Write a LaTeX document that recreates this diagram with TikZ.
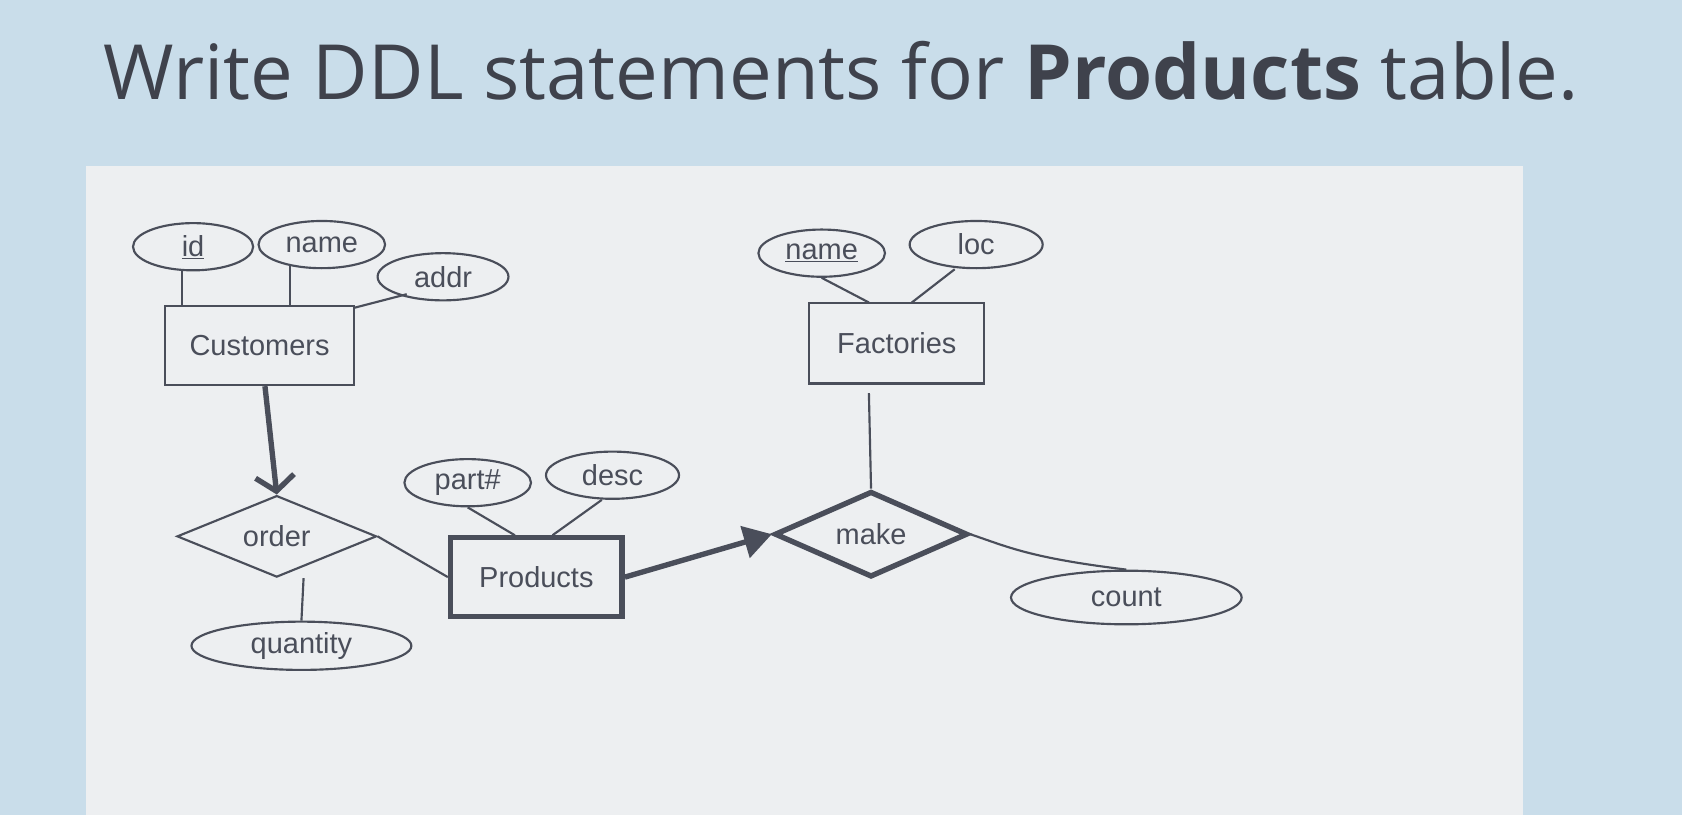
\documentclass[tikz,border=0pt]{standalone}
\usepackage{fontspec}
\setmainfont{Liberation Sans}
\newfontfamily\titlefont{Open Sans}
\usetikzlibrary{shapes.geometric,arrows.meta}
\definecolor{bgblue}{HTML}{C9DDEA}
\definecolor{panel}{HTML}{EDEFF1}
\definecolor{ink}{HTML}{4A4E5A}
\tikzset{
 attr/.style={ellipse,draw=ink,line width=2pt,inner sep=0pt,font=\fontsize{27}{27}\selectfont,text=ink},
 ent/.style={rectangle,draw=ink,line width=2pt,inner sep=6pt,font=\fontsize{27}{27}\selectfont,text=ink},
 rel/.style={diamond,aspect=2.4,draw=ink,line width=2pt,inner sep=1pt,font=\fontsize{27}{27}\selectfont,text=ink},
 thin/.style={draw=ink,line width=2pt},
 thick/.style={draw=ink,line width=5pt}
}
\begin{document}
\begin{tikzpicture}[x=1pt,y=-1pt]
\useasboundingbox (0,0) rectangle (1568,760);
\fill[bgblue] (0,0) rectangle (1568,760);
\fill[panel] (80,155) rectangle (1420,760);
\node[anchor=base west,font=\titlefont\fontsize{71}{71}\selectfont,text=ink!85!black] (title) at (93,93) {Write DDL statements for \textbf{Products} table.};
% customers
\node[attr,minimum width=112,minimum height=44] (id) at (180,230) {\underline{id}};
\node[attr,minimum width=118,minimum height=44] (nm) at (300,228) {name};
\node[attr,minimum width=122,minimum height=44] (addr) at (413,258) {addr};
\node[ent,minimum width=176,minimum height=74] (cust) at (242,322) {Customers};
% factories
\node[attr,minimum width=118,minimum height=44] (fname) at (766,236) {\underline{name}};
\node[attr,minimum width=124,minimum height=44] (loc) at (910,228) {loc};
\node[ent,minimum width=163,minimum height=75] (fact) at (836,320) {Factories};
% products
\node[attr,minimum width=118,minimum height=44] (part) at (436,450) {part\#};
\node[attr,minimum width=124,minimum height=44] (desc) at (571,443) {desc};
\node[ent,minimum width=160,minimum height=74,line width=5pt] (prod) at (500,538) {Products};
\node[rel,minimum width=186,minimum height=76] (order) at (258,500) {order};
\node[rel,minimum width=180,minimum height=80,line width=5pt] (make) at (812,498) {make};
\node[attr,minimum width=215,minimum height=50] (count) at (1050,557) {count};
\node[attr,minimum width=205,minimum height=45] (qty) at (281,602) {quantity};
% lines
\draw[thin] (id.south) ++(-10,0) -- ++(0,32);
\draw[thin] (nm) ++(-30,20) -- (270,284);
\draw[thin] (addr.south west) ++(10,0) -- (330,287);
\draw[thin] (fname.south) -- (810,282);
\draw[thin] (loc.south) ++(-20,0) -- (850,282);
\draw[thin] (part.south) ++(0,0) -- (480,499);
\draw[thin] (desc.south) ++(-10,0) -- (515,499);
\draw[thick,-{Straight Barb[length=14pt,width=36pt]}] (cust.south) ++(5,0) -- (order.north);
\draw[thin] (order.east) -- (prod.west);
\draw[thin] (order.south) ++(25,0) -- (qty.north);
\draw[thin] (fact.south) ++(-26,8) -- (make.north);
\draw[thick,-{Triangle[length=26pt,width=30pt]}] (prod.east) -- (make.west);
\draw[thin] (make.east) .. controls (940,510) and (960,520) .. (count.north);
\end{tikzpicture}
\end{document}
